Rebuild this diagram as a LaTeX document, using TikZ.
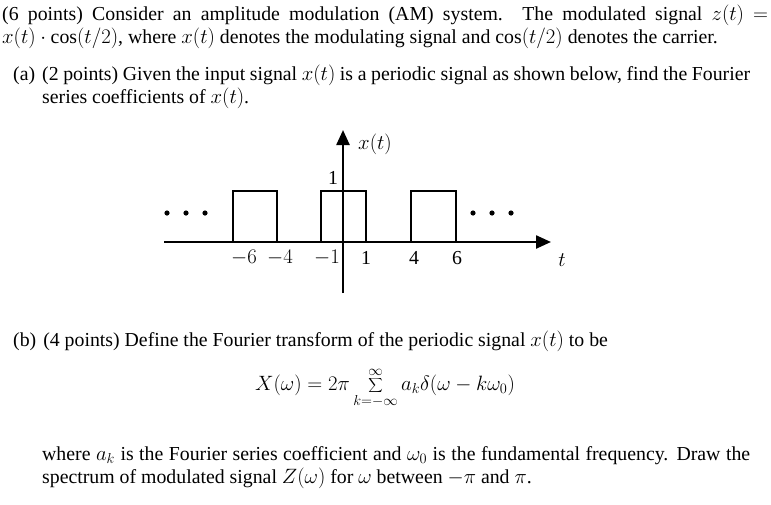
\documentclass[tikz,border=0pt]{standalone}
\usepackage{fontspec}
\setmainfont{Liberation Serif}
\usetikzlibrary{arrows.meta}
\begin{document}
\begin{tikzpicture}[x=1pt,y=-1pt,
  txt/.style={anchor=base west,inner sep=0,font=\fontsize{19.8}{22}\selectfont},
  lab/.style={inner sep=0,font=\fontsize{19.8}{22}\selectfont},
  ax/.style={line width=2.4pt,-{Triangle[length=15pt,width=13pt]}},
  sq/.style={line width=1.1pt}]
\useasboundingbox (0,0) rectangle (771,504);
\node[txt] (l1) at (2,20) {\makebox[766pt][s]{(6 points) Consider an amplitude modulation (AM) system. The modulated signal $z(t)$ $=$}};
\node[txt] (l2) at (2,43) {$x(t)\cdot\cos(t/2)$, where $x(t)$ denotes the modulating signal and $\cos(t/2)$ denotes the carrier.};
\node[txt] (l3) at (13,80) {(a)\hspace{7pt}\makebox[708pt][s]{(2 points) Given the input signal $x(t)$ is a periodic signal as shown below, find the Fourier}};
\node[txt] (l4) at (42,103) {series coefficients of $x(t)$.};
% graph
\draw[ax] (164,242) -- (551,242);
\draw[ax] (343,293) -- (343,130);
\draw[sq] (233,242) -- (233,191) -- (277,191) -- (277,242);
\draw[sq] (321,242) -- (321,191) -- (366,191) -- (366,242);
\draw[sq] (411,242) -- (411,191) -- (456,191) -- (456,242);
\foreach \x in {167,186,205,473,492,511} \fill (\x,213) circle (2.6pt);
\node[lab] (xt) at (375,144) {$x(t)$};
\node[lab] (one) at (333,178) {1};
\node[lab] (t) at (562,260) {$t$};
\node[lab] (m6) at (244,258) {$-6$};
\node[lab] (m4) at (280,258) {$-4$};
\node[lab] (m1) at (327,258) {$-1$};
\node[lab] (p1) at (366,258) {1};
\node[lab] (p4) at (414,258) {4};
\node[lab] (p6) at (457,258) {6};
\node[txt] (l5) at (13,346) {(b)\hspace{7pt}(4 points) Define the Fourier transform of the periodic signal $x(t)$ to be};
\node[lab] (eq) at (385,388) {$\displaystyle X(\omega)=2\pi\sum_{k=-\infty}^{\infty}a_k\delta(\omega-k\omega_0)$};
\node[txt] (l6) at (42,460) {\makebox[708pt][s]{where $a_k$ is the Fourier series coefficient and $\omega_0$ is the fundamental frequency. Draw the}};
\node[txt] (l7) at (42,483) {spectrum of modulated signal $Z(\omega)$ for $\omega$ between $-\pi$ and $\pi$.};
\end{tikzpicture}
\end{document}
